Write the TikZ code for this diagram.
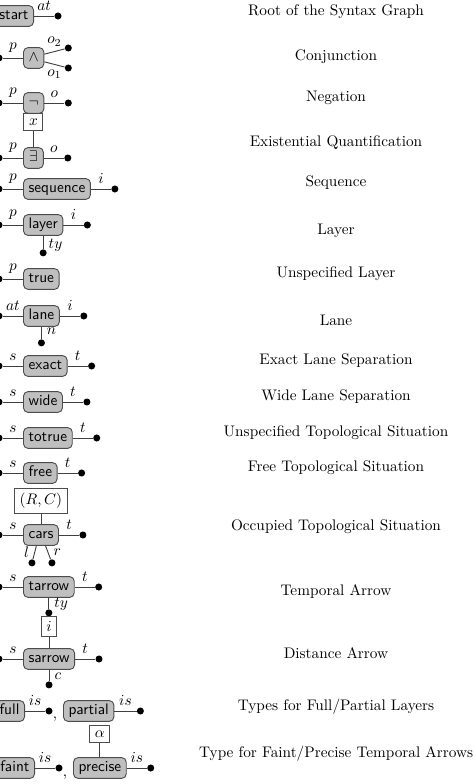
\documentclass[tikz,border=0pt]{standalone}
\usetikzlibrary{calc}
\begin{document}
\begin{tikzpicture}[x=0.6536pt,y=-0.6536pt,
  conn/.style={draw=black!75,line width=0.6pt},
  opbox/.style={draw=black!70,fill=black!25,rounded corners=3pt,line width=0.6pt,font=\sffamily,inner xsep=3.33pt,inner ysep=2.3pt,text height=7pt,text depth=2pt},
  symbox/.style={opbox,minimum width=13pt},
  varbox/.style={draw=black!70,fill=white,line width=0.6pt},
  pin/.style={circle,fill=black,inner sep=0pt,minimum size=4.6pt},
  desc/.style={inner sep=0pt}]
\clip (0,0) rectangle (474,784);

% Row 1: start
\node[opbox,anchor=east] (start) at (34,16) {start};
\node[pin] (start-at) at ($(start.east)+(24,0)$) {};
\draw[conn] (start) -- node[above] {$at$} (start-at);
\node[desc] (d1) at (336,12) {Root of the Syntax Graph};

% Row 2: conjunction
\node[symbox,anchor=west] (and) at (23,58) {$\wedge$};
\node[pin] (and-p) at ($(and.west)+(-24,0)$) {};
\node[pin] (and-o2) at ($(and.east)+(24,-10)$) {};
\node[pin] (and-o1) at ($(and.east)+(24,10)$) {};
\draw[conn] (and-p) -- node[above] {$p$} (and);
\draw[conn] ([yshift=2.5pt]and.east) -- node[above] {$o_2$} (and-o2);
\draw[conn] ([yshift=-2.5pt]and.east) -- node[below] {$o_1$} (and-o1);
\node[desc] (d2) at (336,57) {Conjunction};

% Row 3: negation
\node[symbox,anchor=west] (neg) at (23,103) {$\neg$};
\node[pin] (neg-p) at ($(neg.west)+(-24,0)$) {};
\node[pin] (neg-o) at ($(neg.east)+(24,0)$) {};
\draw[conn] (neg-p) -- node[above] {$p$} (neg);
\draw[conn] (neg) -- node[above] {$o$} (neg-o);
\node[desc] (d3) at (336,98) {Negation};

% Row 4: existential quantification
\node[symbox,anchor=west] (ex) at (23,158) {$\exists$};
\node[varbox,anchor=south] (ex-x) at ($(ex.north)+(0,-16)$) {$x$};
\node[pin] (ex-p) at ($(ex.west)+(-24,0)$) {};
\node[pin] (ex-o) at ($(ex.east)+(24,0)$) {};
\draw[conn] (ex-x) -- (ex);
\draw[conn] (ex-p) -- node[above] {$p$} (ex);
\draw[conn] (ex) -- node[above] {$o$} (ex-o);
\node[desc] (d4) at (336,143) {Existential Quantification};

% Row 5: sequence
\node[opbox,anchor=west] (seq) at (23,189) {sequence};
\node[pin] (seq-p) at ($(seq.west)+(-24,0)$) {};
\node[pin] (seq-i) at ($(seq.east)+(24,0)$) {};
\draw[conn] (seq-p) -- node[above] {$p$} (seq);
\draw[conn] (seq) -- node[above] {$i$} (seq-i);
\node[desc] (d5) at (336,183) {Sequence};

% Row 6: layer
\node[opbox,anchor=west] (layer) at (23,225) {layer};
\node[pin] (layer-p) at ($(layer.west)+(-24,0)$) {};
\node[pin] (layer-i) at ($(layer.east)+(24,0)$) {};
\node[pin] (layer-ty) at ($(layer.south)+(0,17)$) {};
\draw[conn] (layer-p) -- node[above] {$p$} (layer);
\draw[conn] (layer) -- node[above] {$i$} (layer-i);
\draw[conn] (layer) -- node[right,pos=0.75] {$ty$} (layer-ty);
\node[desc] (d6) at (336,231) {Layer};

% Row 7: true
\node[opbox,anchor=west] (true) at (23,279) {true};
\node[pin] (true-p) at ($(true.west)+(-24,0)$) {};
\draw[conn] (true-p) -- node[above] {$p$} (true);
\node[desc] (d7) at (336,274) {Unspecified Layer};

% Row 8: lane
\node[opbox,anchor=west] (lane) at (23,316) {lane};
\node[pin] (lane-at) at ($(lane.west)+(-24,0)$) {};
\node[pin] (lane-i) at ($(lane.east)+(24,0)$) {};
\node[pin] (lane-n) at ($(lane.south)+(0,16)$) {};
\draw[conn] (lane-at) -- node[above] {$at$} (lane);
\draw[conn] (lane) -- node[above] {$i$} (lane-i);
\draw[conn] (lane) -- node[right,pos=0.35] {$n$} (lane-n);
\node[desc] (d8) at (336,320) {Lane};

% Row 9: exact
\node[opbox,anchor=west] (exact) at (23,366) {exact};
\node[pin] (exact-s) at ($(exact.west)+(-24,0)$) {};
\node[pin] (exact-t) at ($(exact.east)+(24,0)$) {};
\draw[conn] (exact-s) -- node[above] {$s$} (exact);
\draw[conn] (exact) -- node[above] {$t$} (exact-t);
\node[desc] (d9) at (336,361) {Exact Lane Separation};

% Row 10: wide
\node[opbox,anchor=west] (wide) at (23,402) {wide};
\node[pin] (wide-s) at ($(wide.west)+(-24,0)$) {};
\node[pin] (wide-t) at ($(wide.east)+(24,0)$) {};
\draw[conn] (wide-s) -- node[above] {$s$} (wide);
\draw[conn] (wide) -- node[above] {$t$} (wide-t);
\node[desc] (d10) at (336,397) {Wide Lane Separation};

% Row 11: totrue
\node[opbox,anchor=west] (totrue) at (23,438) {totrue};
\node[pin] (totrue-s) at ($(totrue.west)+(-24,0)$) {};
\node[pin] (totrue-t) at ($(totrue.east)+(24,0)$) {};
\draw[conn] (totrue-s) -- node[above] {$s$} (totrue);
\draw[conn] (totrue) -- node[above] {$t$} (totrue-t);
\node[desc] (d11) at (336,433) {Unspecified Topological Situation};

% Row 12: free
\node[opbox,anchor=west] (free) at (23,473) {free};
\node[pin] (free-s) at ($(free.west)+(-24,0)$) {};
\node[pin] (free-t) at ($(free.east)+(24,0)$) {};
\draw[conn] (free-s) -- node[above] {$s$} (free);
\draw[conn] (free) -- node[above] {$t$} (free-t);
\node[desc] (d12) at (336,468) {Free Topological Situation};

% Row 13: cars
\node[opbox,anchor=west] (cars) at (23,535) {cars};
\node[varbox,anchor=south] (cars-rc) at ($(cars.north)+(0,-10)$) {$(R,C)$};
\node[pin] (cars-s) at ($(cars.west)+(-24,0)$) {};
\node[pin] (cars-t) at ($(cars.east)+(24,0)$) {};
\node[pin] (cars-l) at ($(cars.south)+(-9,17)$) {};
\node[pin] (cars-r) at ($(cars.south)+(11,17)$) {};
\draw[conn] (cars-rc) -- (cars);
\draw[conn] (cars-s) -- node[above] {$s$} (cars);
\draw[conn] (cars) -- node[above] {$t$} (cars-t);
\draw[conn] ([xshift=-3pt]cars.south) -- node[left] {$l$} (cars-l);
\draw[conn] ([xshift=3pt]cars.south) -- node[right] {$r$} (cars-r);
\node[desc] (d13) at (336,527) {Occupied Topological Situation};

% Row 14: tarrow
\node[opbox,anchor=west] (tarrow) at (23,587) {tarrow};
\node[pin] (tarrow-s) at ($(tarrow.west)+(-24,0)$) {};
\node[pin] (tarrow-t) at ($(tarrow.east)+(24,0)$) {};
\node[pin] (tarrow-ty) at ($(tarrow.south)+(0,15)$) {};
\draw[conn] (tarrow-s) -- node[above] {$s$} (tarrow);
\draw[conn] (tarrow) -- node[above] {$t$} (tarrow-t);
\draw[conn] (tarrow) -- node[right,pos=0.55] {$ty$} (tarrow-ty);
\node[desc] (d14) at (336,592) {Temporal Arrow};

% Row 15: sarrow
\node[opbox,anchor=west] (sarrow) at (23,659) {sarrow};
\node[varbox,anchor=south] (sarrow-i) at ($(sarrow.north)+(0,-11)$) {$i$};
\node[pin] (sarrow-s) at ($(sarrow.west)+(-24,0)$) {};
\node[pin] (sarrow-t) at ($(sarrow.east)+(24,0)$) {};
\node[pin] (sarrow-c) at ($(sarrow.south)+(0,15)$) {};
\draw[conn] (sarrow-i) -- (sarrow);
\draw[conn] (sarrow-s) -- node[above] {$s$} (sarrow);
\draw[conn] (sarrow) -- node[above] {$t$} (sarrow-t);
\draw[conn] (sarrow) -- node[right,pos=0.6] {$c$} (sarrow-c);
\node[desc] (d15) at (336,653) {Distance Arrow};

% Row 16: full, partial
\node[opbox,anchor=east] (full) at (25,711) {full};
\node[pin] (full-is) at ($(full.east)+(24,0)$) {};
\draw[conn] (full) -- node[above] {$is$} (full-is);
\node[desc] (comma1) at (55,719) {$,$};
\node[opbox,anchor=west] (partial) at (63,711) {partial};
\node[pin] (partial-is) at ($(partial.east)+(26,0)$) {};
\draw[conn] (partial) -- node[above] {$is$} (partial-is);
\node[desc] (d16) at (336,707) {Types for Full/Partial Layers};

% Row 17: faint, precise
\node[opbox,anchor=east] (faint) at (35,768) {faint};
\node[pin] (faint-is) at ($(faint.east)+(24,0)$) {};
\draw[conn] (faint) -- node[above] {$is$} (faint-is);
\node[desc] (comma2) at (65,777) {$,$};
\node[opbox,anchor=west] (precise) at (73,768) {precise};
\node[varbox,anchor=south] (precise-alpha) at ($(precise.north)+(0,-14)$) {$\alpha$};
\node[pin] (precise-is) at ($(precise.east)+(24,0)$) {};
\draw[conn] (precise-alpha) -- (precise);
\draw[conn] (precise) -- node[above] {$is$} (precise-is);
\node[desc,anchor=east] (d17) at (473.5,754) {Type for Faint/Precise Temporal Arrows};
\end{tikzpicture}
\end{document}
